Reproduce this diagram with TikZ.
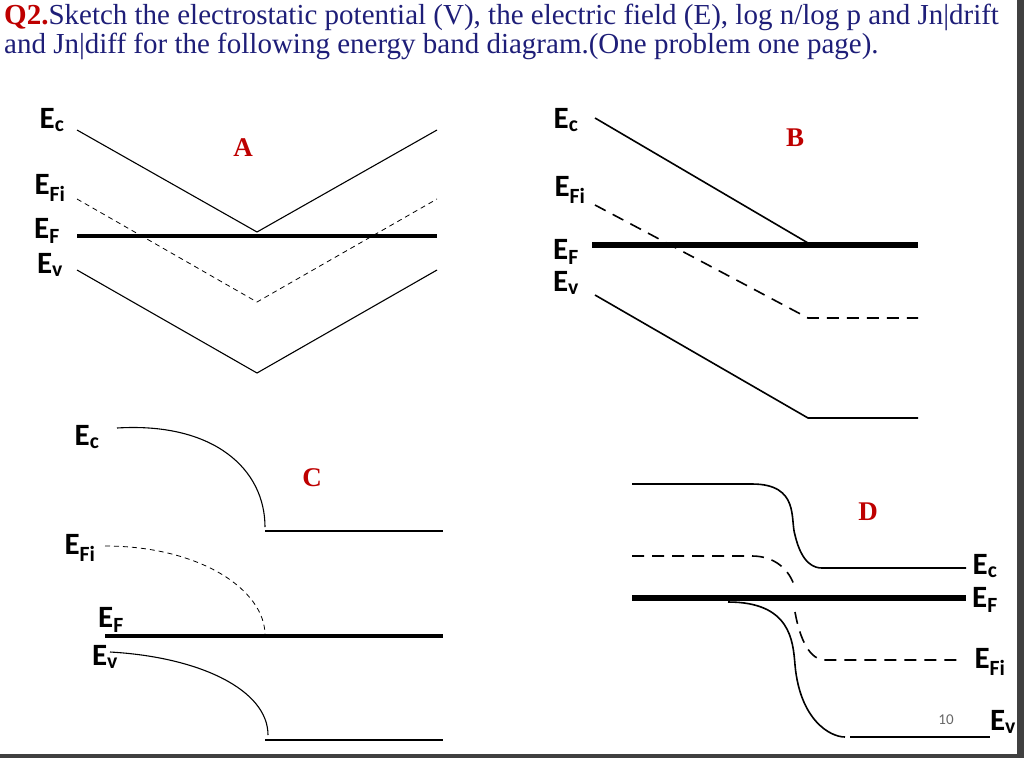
\documentclass[tikz,border=0pt]{standalone}
\usepackage{fontspec}
\setmainfont{Liberation Serif}
\newfontfamily\lab{Carlito}
\definecolor{navy}{RGB}{30,30,120}
\definecolor{qred}{RGB}{190,0,0}
\begin{document}
\begin{tikzpicture}[x=1pt,y=-1pt,
  band/.style={line width=1.1pt},
  fermi/.style={line width=3.5pt},
  fermiB/.style={line width=6pt},
  dash1/.style={line width=0.8pt,dash pattern=on 5pt off 4pt},
  dash2/.style={line width=1.6pt,dash pattern=on 12pt off 8pt},
  lbl/.style={font=\lab\bfseries\fontsize{31}{33}\selectfont,inner sep=0pt},
  pan/.style={font=\bfseries\fontsize{27}{29}\selectfont,text=qred,inner sep=0pt}]
\useasboundingbox (0,0) rectangle (1024,758);
\fill[black!75] (1017,0) rectangle (1024,758);
\fill[black!75] (0,754) rectangle (1024,758);
\node[anchor=west,inner sep=0pt,font=\fontsize{29}{31}\selectfont,text=navy] (t1) at (4,17) {\textcolor{qred}{\textbf{Q2.}}Sketch the electrostatic potential (V), the electric field (E), log n/log p and Jn|drift};
\node[anchor=west,inner sep=0pt,font=\fontsize{29}{31}\selectfont,text=navy] (t2) at (4,46) {and Jn|diff for the following energy band diagram.(One problem one page).};
% A
\draw[band] (77,130) -- (257,232) -- (437,130);
\draw[dash1] (77,199) -- (257,302) -- (437,199);
\draw[fermi] (77,236) -- (437,236);
\draw[band] (77,270) -- (257,373) -- (437,270);
\node[lbl] (a1) at (52,120) {E\textsubscript{c}};
\node[lbl] (a2) at (50,188) {E\textsubscript{Fi}};
\node[lbl] (a3) at (47,231) {E\textsubscript{F}};
\node[lbl] (a4) at (50,265) {E\textsubscript{v}};
\node[pan] (A) at (243,148) {A};
% B
\draw[band,line width=1.6pt] (595,118) -- (808,243);
\draw[fermiB] (592,245) -- (918,245);
\draw[dash2] (595,205) -- (808,318) -- (918,318);
\draw[band,line width=1.6pt] (595,295) -- (808,418) -- (918,418);
\node[lbl] (b1) at (566,120) {E\textsubscript{c}};
\node[lbl] (b2) at (570,190) {E\textsubscript{Fi}};
\node[lbl] (b3) at (566,252) {E\textsubscript{F}};
\node[lbl] (b4) at (566,283) {E\textsubscript{v}};
\node[pan] (B) at (795,138) {B};
% C
\draw[band] (117,428) .. controls (215,422) and (265,470) .. (265,527);
\draw[band] (265,531) -- (443,531);
\draw[dash1] (105,546) .. controls (200,546) and (265,590) .. (265,635);
\draw[fermi] (105,636) -- (443,636);
\draw[band] (110,652) .. controls (200,657) and (268,690) .. (268,735);
\draw[band] (265,740) -- (443,740);
\node[lbl] (c1) at (87,437) {E\textsubscript{c}};
\node[lbl] (c2) at (80,548) {E\textsubscript{Fi}};
\node[lbl] (c3) at (111,620) {E\textsubscript{F}};
\node[lbl] (c4) at (105,657) {E\textsubscript{v}};
\node[pan] (C) at (312,478) {C};
% D
\draw[band,line width=1.6pt] (632,484) -- (752,484) .. controls (800,484) and (790,520) .. (795,535) .. controls (802,565) and (815,568) .. (822,568) -- (966,568);
\draw[dash2] (632,556) -- (752,556) .. controls (775,556) and (790,570) .. (795,588);
\draw[dash2] (795,612) .. controls (800,640) and (810,660) .. (825,660) -- (962,660);
\draw[fermiB] (632,598) -- (966,598);
\draw[band,line width=1.6pt] (728,602) .. controls (790,602) and (793,640) .. (795,665) .. controls (800,720) and (830,737) .. (845,737);
\draw[band,line width=1.6pt] (850,737) -- (990,737);
\node[lbl] (d1) at (985,566) {E\textsubscript{c}};
\node[lbl] (d2) at (985,600) {E\textsubscript{F}};
\node[lbl] (d3) at (990,662) {E\textsubscript{Fi}};
\node[lbl] (d4) at (1003,722) {E\textsubscript{v}};
\node[pan] (D) at (868,512) {D};
\node[inner sep=0pt,font=\lab\fontsize{15}{16}\selectfont,text=black!60] (pg) at (946,720) {10};
\end{tikzpicture}
\end{document}
